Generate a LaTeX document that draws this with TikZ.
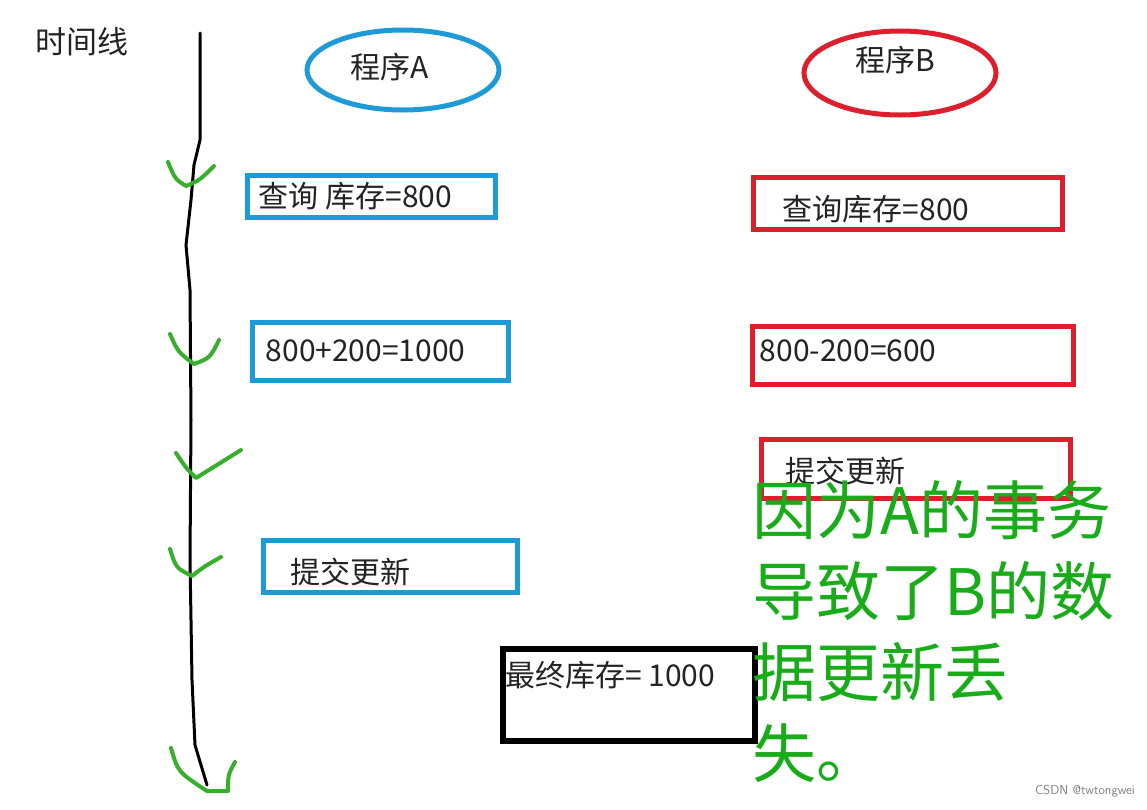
\documentclass[tikz,border=0pt]{standalone}
\usepackage{fontspec}
\newfontfamily\cjk{Noto Sans CJK SC}
\usetikzlibrary{positioning,shapes.geometric}
\definecolor{progblue}{RGB}{30,155,215}
\definecolor{progred}{RGB}{220,30,45}
\definecolor{tickgreen}{RGB}{55,175,45}
\definecolor{notegreen}{RGB}{25,172,25}
\definecolor{inkgray}{RGB}{35,35,35}

\tikzset{
    stepA/.style={draw=progblue, line width=5pt, inner sep=0pt, anchor=north west},
    stepB/.style={draw=progred, line width=5pt, inner sep=0pt, anchor=north west},
    lbl/.style={text=inkgray, inner sep=0pt, font=\cjk\fontsize{30}{33}\selectfont},
    tick/.style={draw=tickgreen, line width=4pt, line cap=round, line join=round},
}

\begin{document}
\begin{tikzpicture}[x=1pt, y=-1pt]
    \useasboundingbox[fill=white] (0,0) rectangle (1147,809);

    % Time line
    \node[lbl, font=\cjk\fontsize{31}{33}\selectfont] (tline) at (82,42) {时间线};
    \draw[black, line width=3pt, line cap=round]
        (200,33) -- (200,140) -- (194,165) -- (191,200) -- (186,245) -- (190,290)
        -- (191,420) -- (190,560) -- (192,680) -- (195,745) -- (207,785);

    % Ticks on the time line
    \draw[tick] (168,162) .. controls (175,179) .. (186,186) .. controls (200,180) .. (214,166);
    \draw[tick] (170,334) .. controls (178,352) .. (194,364) .. controls (210,358) .. (219,340);
    \draw[tick] (176,453) .. controls (186,468) .. (196,478) -- (241,450);
    \draw[tick] (170,549) .. controls (176,568) .. (192,576) .. controls (205,566) .. (221,557);
    \draw[tick] (171,748) .. controls (178,772) .. (207,791) -- (228,791) .. controls (228,775) .. (235,762);

    % Programs
    \node[ellipse, draw=progblue, line width=5pt, minimum width=192pt, minimum height=80pt] (progA) at (403,70) {};
    \node[lbl] (nameA) at (390,67) {程序A};
    \node[ellipse, draw=progred, line width=5pt, minimum width=192pt, minimum height=84pt] (progB) at (900,73) {};
    \node[lbl] (nameB) at (895,60) {程序B};

    % Steps of A
    \node[stepA, minimum width=248pt, minimum height=42pt] (a1) at (244.5,172.5) {};
    \node[lbl, right=14pt of a1.west] (a1t) {查询 库存=800};
    \node[stepA, minimum width=256pt, minimum height=58pt] (a2) at (249.5,319.5) {};
    \node[lbl, right=16pt of a2.west] (a2t) {800+200=1000};
    \node[stepA, minimum width=254pt, minimum height=52pt] (a3) at (260.5,537.5) {};
    \node[lbl, right=30pt of a3.west, yshift=-6pt] (a3t) {提交更新};

    % Steps of B
    \node[stepB, minimum width=309pt, minimum height=52pt] (b1) at (750.5,174.5) {};
    \node[lbl, right=32pt of b1.west, yshift=-6pt] (b1t) {查询库存=800};
    \node[stepB, minimum width=321pt, minimum height=58pt] (b2) at (749.5,323.5) {};
    \node[lbl, right=10pt of b2.west, yshift=4pt] (b2t) {800-200=600};
    \node[stepB, minimum width=309pt, minimum height=59pt] (b3) at (758.5,436.5) {};
    \node[lbl, right=27pt of b3.west, yshift=-2pt] (b3t) {提交更新};

    % Result
    \node[draw=black, line width=6pt, inner sep=0pt, anchor=north west,
          minimum width=252pt, minimum height=92pt] (final) at (500,646) {};
    \node[lbl, anchor=west] (finalt) at ([xshift=5pt, yshift=-29pt]final.north west) {最终库存= 1000};

    % Note
    \node[text=notegreen, inner sep=0pt, anchor=north west, align=left,
          font=\cjk\fontsize{64}{81}\selectfont] (note) at (752,480)
        {因为A的事务\\导致了B的数\\据更新丢\\失。};
    \node[text=gray, inner sep=0pt, anchor=east,
          font=\fontsize{13}{14}\selectfont\sffamily] (mark) at (1135,791) {CSDN @twtongwei};
\end{tikzpicture}
\end{document}
